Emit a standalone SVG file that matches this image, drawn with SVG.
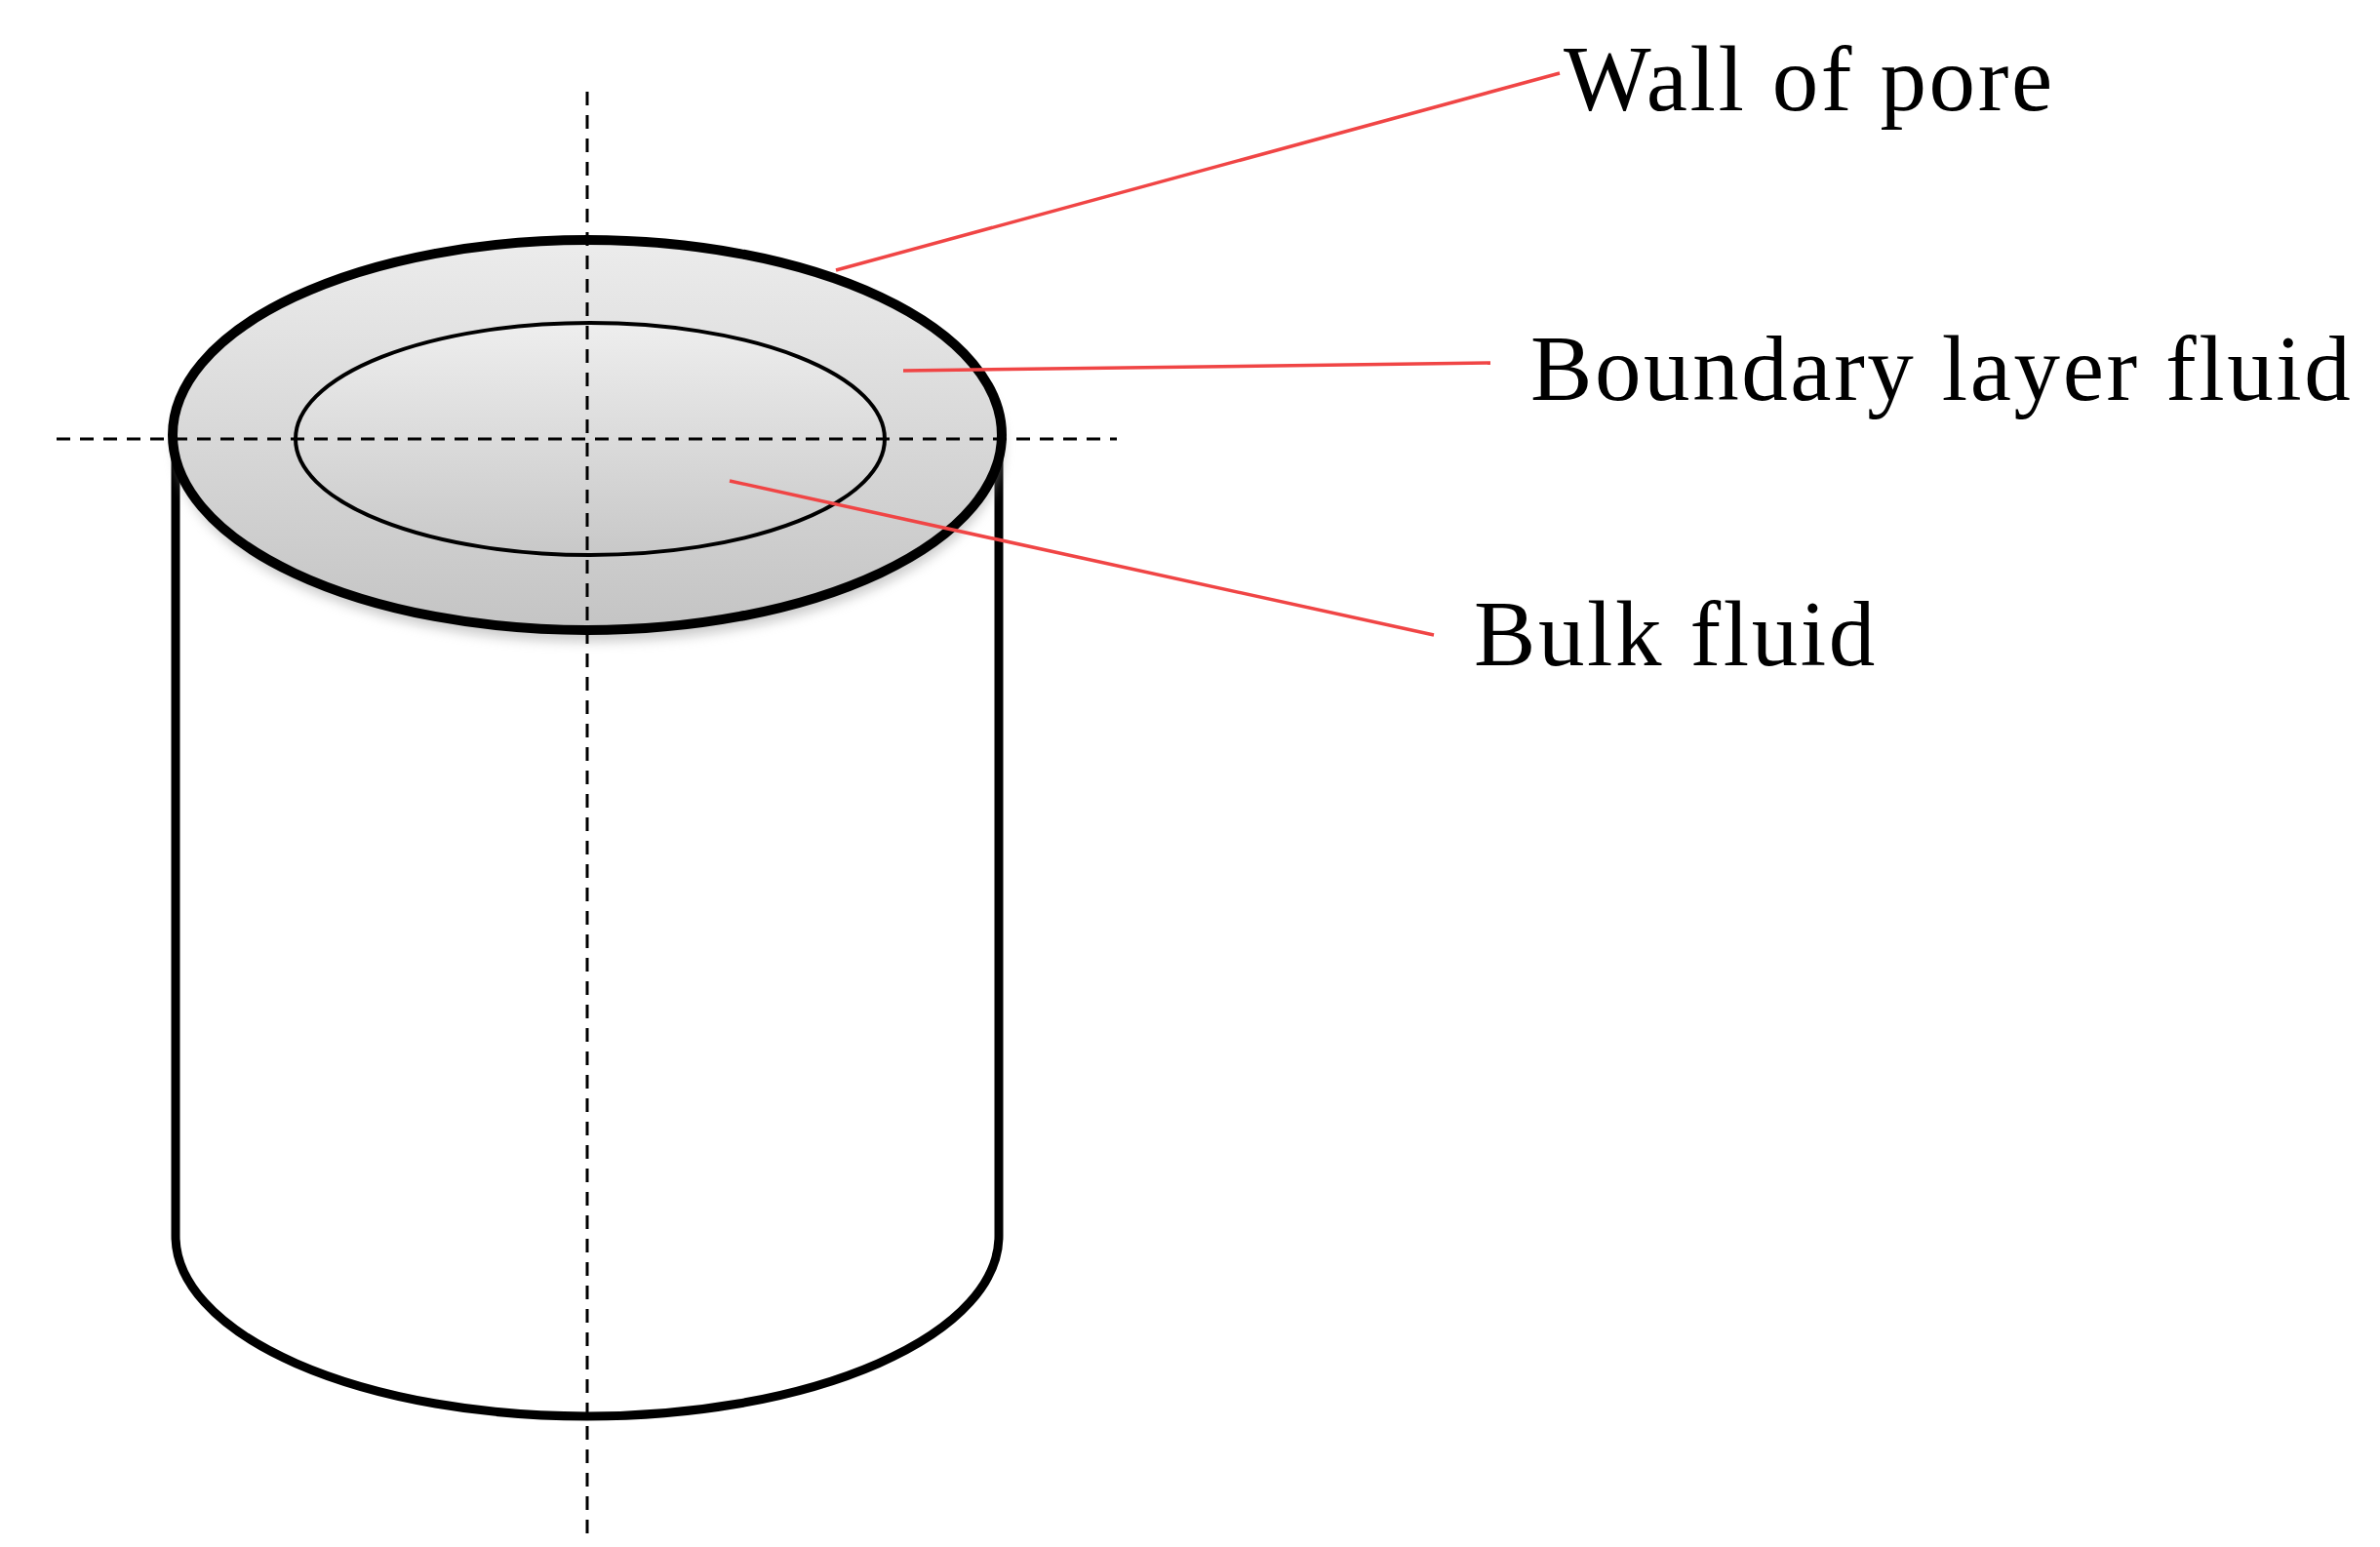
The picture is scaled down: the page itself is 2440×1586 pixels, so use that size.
<svg xmlns="http://www.w3.org/2000/svg" width="2440" height="1586" viewBox="0 0 2440 1586">
<style>
.dash{stroke:#000;stroke-width:3;stroke-dasharray:14 10;fill:none}
.lead{stroke:#f04545;stroke-width:3.5;fill:none}
.lbl{font-family:"Liberation Serif",serif;font-size:95px;letter-spacing:2.6px;fill:#000}
</style>
<defs>
<linearGradient id="g1" x1="0" y1="0" x2="0" y2="1">
<stop offset="0" stop-color="#ececec"/><stop offset="1" stop-color="#c4c4c4"/>
</linearGradient>
<linearGradient id="g2" x1="0" y1="0" x2="0" y2="1">
<stop offset="0" stop-color="#eeeeee"/><stop offset="1" stop-color="#c8c8c8"/>
</linearGradient>
<filter id="sh" x="-10%" y="-10%" width="120%" height="130%"><feGaussianBlur stdDeviation="6"/></filter>
</defs>
<g id="cylinder">
<path d="M180,454 V1267 A422,185 0 0 0 1024,1267 V454" fill="#fff" stroke="#000" stroke-width="9"/>
<ellipse cx="604" cy="458" rx="425" ry="200" fill="#999" opacity="0.5" filter="url(#sh)"/>
<ellipse cx="602" cy="446" rx="425" ry="200" fill="url(#g1)" stroke="#000" stroke-width="10"/>
<ellipse cx="605" cy="450" rx="302" ry="119" fill="url(#g2)" stroke="#000" stroke-width="4"/>
</g>
<g id="axes">
<line class="dash" x1="602" y1="94" x2="602" y2="1580"/>
<line class="dash" x1="58" y1="450" x2="1145" y2="450"/>
</g>
<g id="connectors">
<line class="lead" x1="857" y1="277" x2="1599" y2="75"/>
<line class="lead" x1="926" y1="380" x2="1528" y2="372"/>
<line class="lead" x1="748" y1="493" x2="1470" y2="651"/>
</g>
<g id="label-wall"><text class="lbl" x="1603" y="113">Wall of pore</text></g>
<g id="label-boundary"><text class="lbl" x="1569" y="410">Boundary layer fluid</text></g>
<g id="label-bulk"><text class="lbl" x="1511" y="682">Bulk fluid</text></g>
</svg>
